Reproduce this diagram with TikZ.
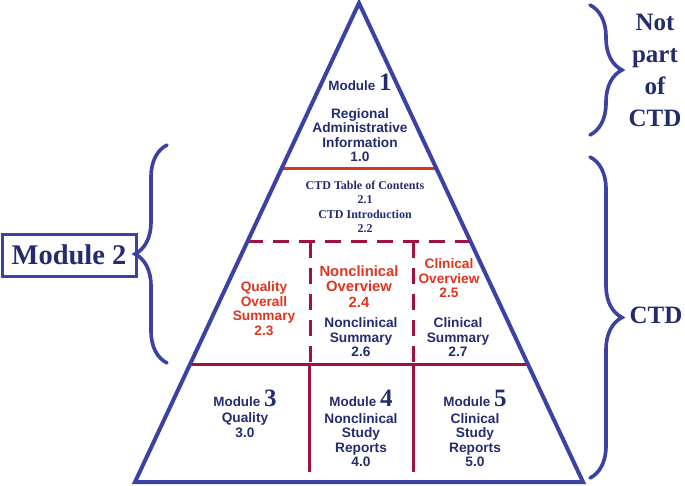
\documentclass[tikz,border=0pt]{standalone}
\usepackage{fontspec}
\setmainfont{Liberation Serif}
\setsansfont{Liberation Sans}
\usetikzlibrary{positioning, decorations.pathreplacing, calc}
\definecolor{navy}{HTML}{232D6E}
\definecolor{outline}{HTML}{3B42A3}
\definecolor{ctdred}{HTML}{E0341F}
\definecolor{crimson}{HTML}{A3123F}
\newcommand{\modnum}[1]{{\rmfamily\fontsize{25}{25}\selectfont #1}}

\begin{document}
\begin{tikzpicture}[x=1pt, y=-1pt,
  heading/.style={font=\sffamily\bfseries\fontsize{13.4}{14.5}\selectfont, text=navy, inner sep=0pt},
  body/.style={font=\sffamily\bfseries\fontsize{13.7}{14.5}\selectfont, text=navy, align=center, inner sep=0pt},
  redbody/.style={body, text=ctdred},
  serifbody/.style={font=\rmfamily\bfseries\fontsize{12}{14.5}\selectfont, text=navy, align=center, inner sep=0pt},
  label/.style={font=\rmfamily\bfseries\fontsize{25}{32}\selectfont, text=navy, align=center, inner sep=0pt},
  bracket/.style={decorate, decoration={brace, amplitude=32pt, aspect=0.5}, draw=outline, line width=3.6pt, line cap=round},
  divider/.style={draw=crimson, line width=3pt},
]
\useasboundingbox (0,0) rectangle (685,485);

% pyramid corners
\coordinate (apex) at (359,3);
\coordinate (bl) at (135,482);
\coordinate (br) at (583,482);

% dividers
\draw[draw=ctdred, line width=3pt] ($(apex)!0.346!(bl)$) -- ($(apex)!0.346!(br)$);
\draw[divider, dash pattern=on 16pt off 10pt] ($(apex)!0.498!(bl)$) -- ($(apex)!0.498!(br)$);
\draw[divider, dash pattern=on 16pt off 10pt] (310,242) -- (310,365);
\draw[divider, dash pattern=on 16pt off 10pt] (413,242) -- (413,365);
\draw[divider] ($(apex)!0.754!(bl)$) -- ($(apex)!0.754!(br)$);
\draw[divider] (309,365) -- (309,472);
\draw[divider] (413,365) -- (413,472);

\draw[outline, line width=4pt, line join=miter] (apex) -- (br) -- (bl) -- cycle;

% module 1
\node[heading] (m1) at (360,82) {Module \modnum{1}};
\node[body] (m1txt) at (360,135) {Regional\\Administrative\\Information\\1.0};

% module 2
\node[serifbody] (toc) at (365,207) {CTD Table of Contents\\2.1\\CTD Introduction\\2.2};
\node[redbody] (qos) at (264,308.5) {Quality\\Overall\\Summary\\2.3};
\node[redbody, font=\sffamily\bfseries\fontsize{14.8}{15.5}\selectfont] (nco) at (359,286.5) {Nonclinical\\Overview\\2.4};
\node[redbody] (co) at (449,278.5) {Clinical\\Overview\\2.5};
\node[body] (ncs) at (361,337.5) {Nonclinical\\Summary\\2.6};
\node[body] (cs) at (458,337.5) {Clinical\\Summary\\2.7};

% modules 3-5
\node[heading] (m3) at (245,398) {Module \modnum{3}};
\node[body] (m3txt) at (245,425) {Quality\\3.0};
\node[heading] (m4) at (361,398) {Module \modnum{4}};
\node[body] (m4txt) at (361,440) {Nonclinical\\Study\\Reports\\4.0};
\node[heading] (m5) at (475,398) {Module \modnum{5}};
\node[body] (m5txt) at (475,440) {Clinical\\Study\\Reports\\5.0};

% side labels
\node[draw=outline, line width=3pt, font=\rmfamily\bfseries\fontsize{28.5}{30}\selectfont, text=navy,
      minimum width=134pt, minimum height=42pt, inner sep=0pt] (mod2) at (69,255) {Module 2};
\node[label] (notctd) at (655,70) {Not\\part\\of\\CTD};
\node[label] (ctd) at (656,315) {CTD};

% braces
\draw[bracket] (167,363) -- (167,145);
\draw[bracket] (590,5) -- (590,135);
\draw[bracket] (590,157) -- (590,478);
\end{tikzpicture}
\end{document}
